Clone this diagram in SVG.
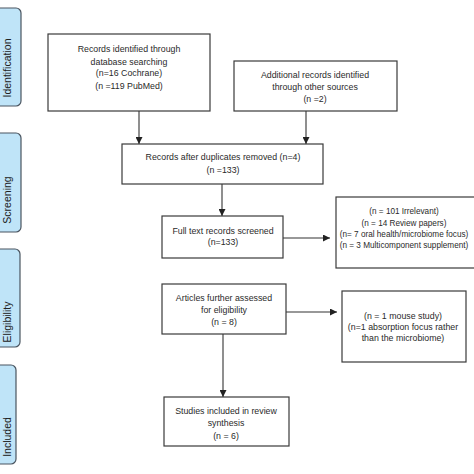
<svg xmlns="http://www.w3.org/2000/svg" width="474" height="474" viewBox="0 0 474 474">
<defs>
<style>
.tab{fill:#bfe4f8;stroke:#4a5560;stroke-width:1.2}
.tabt{font-family:"Liberation Sans",Arial,sans-serif;font-size:10.5px;fill:#222;text-anchor:middle}
.box{fill:#fff;stroke:#3a3a3a;stroke-width:1.2}
.t{font-family:"Liberation Sans",Arial,sans-serif;font-size:8.8px;fill:#2a2a2a;text-anchor:middle}
.ts{font-size:8.2px}
.c{stroke:#333;stroke-width:1.1;fill:none;marker-end:url(#ah)}
</style>
<marker id="ah" viewBox="0 0 10 10" refX="10" refY="5" markerWidth="7" markerHeight="7" markerUnits="userSpaceOnUse" orient="auto">
<path d="M0,0 L10,5 L0,10 z" fill="#222"/>
</marker>
</defs>
<rect width="474" height="474" fill="#fff"/>
<g id="tab-identification"><rect class="tab" x="-10" y="8" width="31" height="98" rx="5"/><text class="tabt" transform="translate(10.5,68) rotate(-90)">Identification</text></g>
<g id="tab-screening"><rect class="tab" x="-10" y="133" width="31" height="99" rx="5"/><text class="tabt" transform="translate(10.5,200) rotate(-90)">Screening</text></g>
<g id="tab-eligibility"><rect class="tab" x="-10" y="249" width="30" height="98" rx="5"/><text class="tabt" transform="translate(10.5,322) rotate(-90)">Eligibility</text></g>
<g id="tab-included"><rect class="tab" x="-10" y="365" width="26" height="99" rx="5"/><text class="tabt" transform="translate(10.5,437) rotate(-90)">Included</text></g>
<g id="connectors">
<line class="c" x1="139" y1="111" x2="139" y2="144"/>
<line class="c" x1="306" y1="111" x2="306" y2="144"/>
<line class="c" x1="222" y1="184" x2="222" y2="216"/>
<line class="c" x1="283" y1="238" x2="330" y2="238"/>
<line class="c" x1="286" y1="312" x2="337" y2="312"/>
<line class="c" x1="223" y1="334" x2="223" y2="397"/>
</g>
<g id="n1"><rect class="box" x="48" y="34" width="162" height="77"/>
<text class="t" x="129" y="51.5">Records identified through</text>
<text class="t" x="129" y="64.5">database searching</text>
<text class="t" x="129" y="76">(n=16 Cochrane)</text>
<text class="t" x="129" y="89">(n =119 PubMed)</text></g>
<g id="n2"><rect class="box" x="234" y="61" width="163" height="50"/>
<text class="t" x="315" y="78">Additional records identified</text>
<text class="t" x="315" y="90">through other sources</text>
<text class="t" x="315" y="102">(n =2)</text></g>
<g id="n3"><rect class="box" x="122" y="144" width="201" height="40"/>
<text class="t" x="223" y="160">Records after duplicates removed (n=4)</text>
<text class="t" x="223" y="173">(n =133)</text></g>
<g id="n4"><rect class="box" x="162" y="216" width="121" height="42"/>
<text class="t" x="223" y="234">Full text records screened</text>
<text class="t" x="223" y="245">(n=133)</text></g>
<g id="n5"><rect class="box" x="336" y="197" width="148" height="71"/>
<text class="t ts" x="404" y="214">(n = 101 Irrelevant)</text>
<text class="t ts" x="404" y="225.5">(n = 14 Review papers)</text>
<text class="t ts" x="404" y="236.5">(n= 7 oral health/microbiome focus)</text>
<text class="t ts" x="404" y="247.5">(n = 3 Multicomponent supplement)</text></g>
<g id="n6"><rect class="box" x="162" y="284" width="124" height="50"/>
<text class="t" x="224" y="301">Articles further assessed</text>
<text class="t" x="224" y="313">for eligibility</text>
<text class="t" x="224" y="325">(n = 8)</text></g>
<g id="n7"><rect class="box" x="342" y="291" width="124" height="71"/>
<text class="t" x="403" y="319">(n = 1 mouse study)</text>
<text class="t" x="403" y="330">(n=1 absorption focus rather</text>
<text class="t" x="403" y="340.5">than the microbiome)</text></g>
<g id="n8"><rect class="box" x="164" y="397" width="125" height="49"/>
<text class="t" x="226" y="414">Studies included in review</text>
<text class="t" x="226" y="426">synthesis</text>
<text class="t" x="226" y="439">(n = 6)</text></g>
</svg>
